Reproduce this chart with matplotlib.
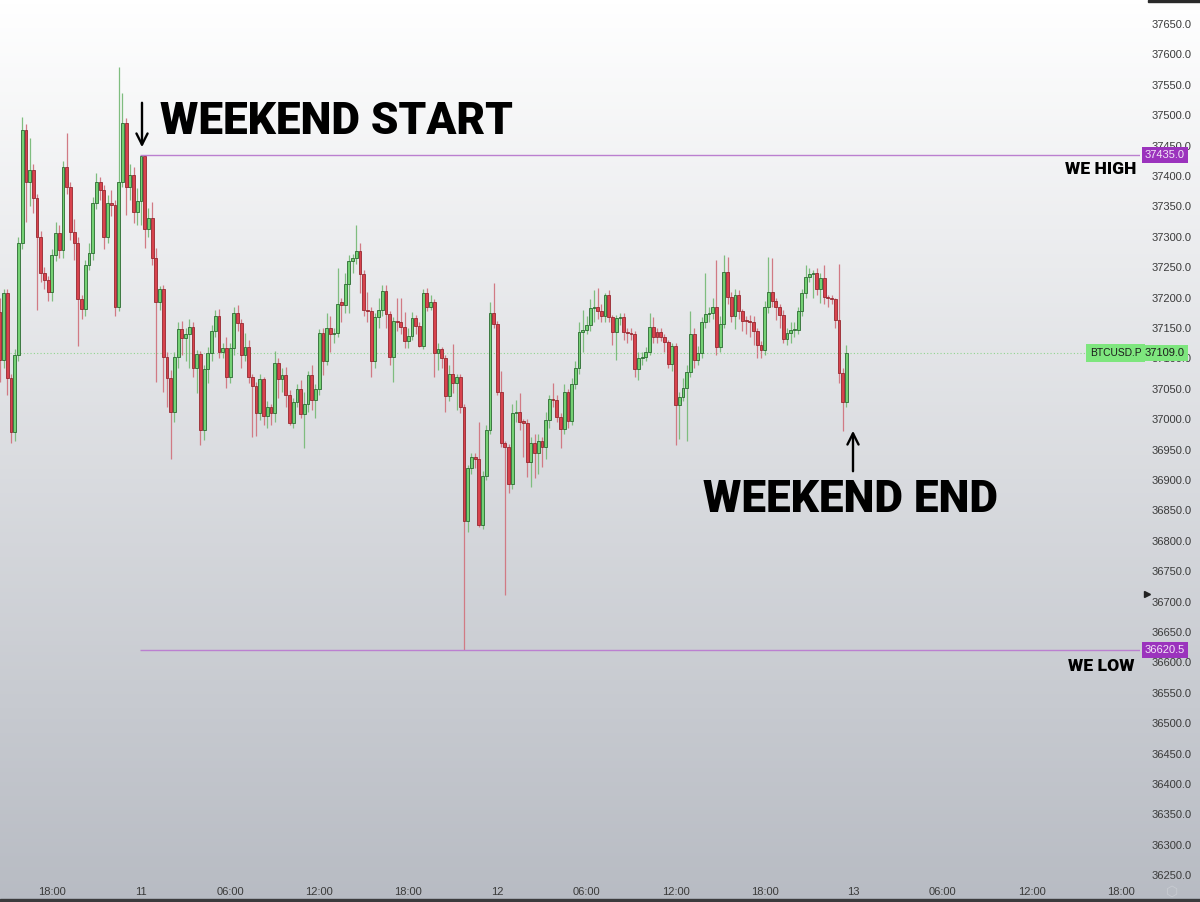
"""BTCUSD.P 15m candles over the weekend with the weekend high / low marked."""

import matplotlib
matplotlib.use("Agg")
import matplotlib.pyplot as plt
import matplotlib.dates as mdates
import matplotlib.transforms as mtransforms
from matplotlib.patches import Rectangle
from matplotlib.ticker import MultipleLocator, FuncFormatter
import numpy as np
import pandas as pd

# 15 minute candles, first one at 2023-11-10 14:30, weekend start candle = 11th 00:00
first_candle = "2023-11-10 14:30"

opens = [
    37176, 37097, 37208, 37068, 36979, 37106, 37290, 37476, 37390, 37410,
    37364, 37300, 37240, 37229, 37209, 37270, 37306, 37278, 37415, 37382,
    37308, 37290, 37198, 37181, 37254, 37273, 37356, 37390, 37377, 37300,
    37356, 37352, 37184, 37390, 37487, 37382, 37402, 37341,
    # weekend
    37359, 37433, 37313, 37331, 37265, 37193, 37214, 37102, 37068, 37012,
    37102, 37148, 37134, 37140, 37152, 37084, 37107, 36982, 37083, 37109,
    37145, 37170, 37111, 37117, 37069, 37117, 37175, 37158, 37106, 37119,
    37069, 37055, 37010, 37066, 37005, 37020, 37010, 37092, 37066, 37073,
    37040, 36994, 37028, 37050, 37009, 37025, 37073, 37032, 37050, 37142,
    37096, 37150, 37140, 37142, 37192, 37188, 37222, 37260, 37265, 37277,
    37239, 37180, 37178, 37096, 37168, 37180, 37211, 37173, 37102, 37162,
    37160, 37152, 37129, 37137, 37166, 37153, 37120, 37208, 37184, 37193,
    37109, 37115, 37101, 37038, 37074, 37060, 37069, 37020, 36833, 36920,
    36938, 36935, 36826, 36907, 36982, 37175, 37157, 37045, 36961, 36954,
    36893, 37010, 37012, 36997, 36994, 36930, 36961, 36944, 36964, 36954,
    36999, 37033, 37032, 37004, 36984, 37045, 36997, 37058, 37084, 37143,
    37147, 37155, 37183, 37184, 37178, 37170, 37204, 37168, 37143, 37166,
    37168, 37143, 37142, 37140, 37083, 37101, 37103, 37111, 37152, 37143,
    37143, 37135, 37127, 37091, 37120, 37023, 37037, 37051, 37078, 37140,
    37097, 37109, 37160, 37173, 37175, 37184, 37119, 37157, 37242, 37201,
    37170, 37204, 37178, 37163, 37161, 37160, 37145, 37122, 37114, 37184,
    37209, 37194, 37184, 37171, 37132, 37142, 37146, 37147, 37178, 37208,
    37234, 37239, 37240, 37214, 37232, 37201, 37200, 37198, 37163, 37076,
    37028,
]
highs = [
    37200, 37215, 37214, 37075, 37115, 37300, 37497, 37485, 37462, 37420,
    37370, 37310, 37250, 37235, 37280, 37325, 37320, 37425, 37470, 37390,
    37330, 37300, 37205, 37262, 37290, 37365, 37405, 37398, 37385, 37368,
    37377, 37360, 37579, 37536, 37495, 37420, 37415, 37380,
    37435, 37435, 37347, 37357, 37282, 37219, 37220, 37110, 37081, 37110,
    37160, 37162, 37150, 37165, 37160, 37114, 37112, 37090, 37118, 37155,
    37180, 37182, 37125, 37135, 37125, 37184, 37188, 37165, 37142, 37130,
    37075, 37062, 37075, 37070, 37030, 37025, 37112, 37100, 37085, 37086,
    37048, 37035, 37058, 37065, 37045, 37080, 37089, 37058, 37148, 37150,
    37175, 37170, 37150, 37249, 37200, 37240, 37270, 37272, 37319, 37290,
    37245, 37210, 37185, 37175, 37200, 37221, 37220, 37178, 37168, 37199,
    37200, 37176, 37150, 37176, 37172, 37160, 37215, 37216, 37204, 37198,
    37125, 37118, 37105, 37089, 37124, 37075, 37075, 37025, 36925, 36945,
    36945, 36995, 36915, 36990, 37193, 37224, 37162, 37080, 36965, 36960,
    37025, 37032, 37043, 37000, 37000, 36970, 36975, 36975, 36970, 37012,
    37040, 37060, 37040, 37010, 37058, 37050, 37068, 37095, 37160, 37180,
    37170, 37198, 37212, 37216, 37190, 37208, 37212, 37172, 37172, 37175,
    37175, 37150, 37150, 37145, 37110, 37110, 37118, 37175, 37168, 37150,
    37150, 37140, 37130, 37125, 37125, 37045, 37068, 37090, 37178, 37150,
    37120, 37168, 37240, 37185, 37200, 37262, 37170, 37270, 37267, 37210,
    37215, 37212, 37182, 37170, 37171, 37170, 37150, 37128, 37195, 37267,
    37265, 37200, 37190, 37180, 37150, 37160, 37160, 37185, 37215, 37254,
    37249, 37245, 37248, 37240, 37254, 37205, 37205, 37200, 37256, 37085,
    37122,
]
lows = [
    37062, 37085, 37040, 36961, 36965, 37095, 37280, 37325, 37350, 37340,
    37180, 37225, 37215, 37195, 37195, 37260, 37265, 37265, 37370, 37295,
    37262, 37120, 37165, 37170, 37245, 37262, 37345, 37360, 37280, 37290,
    37335, 37170, 37178, 37382, 37336, 37360, 37323, 37320,
    37320, 37282, 37300, 37254, 37062, 37180, 37045, 37020, 36935, 36995,
    37085, 37105, 37095, 37085, 37070, 37043, 36958, 36966, 37060, 37095,
    37135, 37100, 37100, 37051, 37060, 37105, 37145, 37085, 37095, 37060,
    36970, 36972, 36999, 36990, 36985, 36990, 36995, 37035, 37045, 37020,
    36990, 36985, 37020, 37002, 36953, 37012, 37015, 37002, 37040, 37073,
    37090, 37111, 37125, 37135, 37160, 37175, 37175, 37240, 37255, 37208,
    37170, 37160, 37069, 37085, 37150, 37170, 37150, 37090, 37061, 37145,
    37140, 37117, 37117, 37130, 37140, 37118, 37115, 37178, 37180, 37069,
    37081, 37085, 37012, 37030, 37043, 37015, 37010, 36620.5, 36814, 36910,
    36920, 36822, 36820, 36900, 36975, 37150, 37040, 36955, 36711, 36878,
    36885, 36995, 36982, 36938, 36905, 36889, 36903, 36910, 36921, 36935,
    36985, 37020, 36995, 36953, 36975, 36985, 36990, 37050, 37075, 37110,
    37140, 37145, 37160, 37165, 37160, 37160, 37160, 37122, 37098, 37155,
    37130, 37125, 37130, 37069, 37065, 37090, 37095, 37105, 37125, 37125,
    37128, 37111, 37085, 37080, 36958, 36968, 37030, 36965, 37070, 37085,
    37089, 37100, 37150, 37160, 37165, 37105, 37110, 37150, 37190, 37160,
    37148, 37165, 37145, 37140, 37135, 37122, 37100, 37100, 37105, 37175,
    37185, 37163, 37150, 37125, 37122, 37125, 37135, 37140, 37170, 37200,
    37225, 37200, 37205, 37191, 37190, 37185, 37190, 37150, 37060, 36981,
    37020,
]
closes = [
    37097, 37208, 37068, 36979, 37106, 37290, 37476, 37390, 37410, 37364,
    37300, 37240, 37229, 37209, 37270, 37306, 37278, 37415, 37382, 37308,
    37290, 37198, 37181, 37254, 37273, 37356, 37390, 37377, 37300, 37356,
    37352, 37184, 37390, 37487, 37382, 37402, 37341, 37359,
    37433, 37313, 37331, 37265, 37193, 37214, 37102, 37068, 37012, 37102,
    37148, 37134, 37140, 37152, 37084, 37107, 36982, 37083, 37109, 37145,
    37170, 37111, 37117, 37069, 37117, 37175, 37158, 37106, 37119, 37069,
    37055, 37010, 37066, 37005, 37020, 37010, 37092, 37066, 37073, 37040,
    36994, 37028, 37050, 37009, 37025, 37073, 37032, 37050, 37142, 37096,
    37150, 37140, 37142, 37189, 37188, 37222, 37260, 37265, 37277, 37239,
    37180, 37178, 37096, 37168, 37180, 37211, 37173, 37102, 37162, 37160,
    37152, 37129, 37137, 37166, 37153, 37120, 37208, 37184, 37193, 37109,
    37115, 37101, 37038, 37074, 37060, 37069, 37020, 36833, 36920, 36938,
    36935, 36826, 36907, 36982, 37175, 37157, 37045, 36961, 36954, 36893,
    37010, 37012, 36995, 36994, 36930, 36961, 36944, 36964, 36954, 36999,
    37033, 37031, 37004, 36984, 37045, 36997, 37058, 37084, 37143, 37147,
    37155, 37183, 37184, 37178, 37170, 37204, 37168, 37143, 37166, 37168,
    37143, 37141, 37140, 37083, 37101, 37103, 37111, 37152, 37135, 37135,
    37135, 37127, 37091, 37120, 37023, 37037, 37051, 37078, 37140, 37097,
    37109, 37160, 37173, 37175, 37184, 37119, 37157, 37242, 37201, 37170,
    37204, 37178, 37162, 37161, 37160, 37145, 37122, 37114, 37184, 37209,
    37194, 37184, 37171, 37132, 37142, 37147, 37148, 37178, 37208, 37234,
    37239, 37240, 37214, 37232, 37201, 37199, 37198, 37163, 37076, 37028,
    37109,
]

weekend_start = "2023-11-11 00:00"
we_high = 37435.0
we_low = 36620.5
last_price = 37109.0

GREEN_FILL, GREEN_EDGE, GREEN_WICK = "#74d174", "#2b6a31", "#7fbd7f"
RED_FILL, RED_EDGE, RED_WICK = "#d8434d", "#962830", "#d17a84"
PURPLE_LINE, PURPLE_BOX = "#bb7fd0", "#9b33bd"
TEXT_GREY = "#3a3a3a"

W, H = 1200, 902
fig = plt.figure(figsize=(W / 100, H / 100), dpi=100)

# background gradient, white at top to grey-blue at bottom
bg = fig.add_axes([0, 0, 1, 1], zorder=-10)
grad = np.linspace(0, 1, 256)[:, None, None]
top = np.array([1.0, 1.0, 1.0])
bottom = np.array([0.72, 0.735, 0.765])
bg.imshow(top + (bottom - top) * grad, aspect="auto", extent=[0, 1, 0, 1], origin="upper")
bg.axis("off")

# price pane: x 0..1140 px, y 0..880 px
ax = fig.add_axes([0, 22 / H, 1140 / W, 880 / H])
ax.set_facecolor("none")

times = pd.date_range(first_candle, periods=len(closes), freq="15min")
x = mdates.date2num(times)
o = np.array(opens, float)
hi = np.array(highs, float)
lo = np.array(lows, float)
c = np.array(closes, float)
up = c >= o

body_w = 0.19 / 24
ax.vlines(x[up], lo[up], hi[up], color=GREEN_WICK, lw=0.9, zorder=2)
ax.vlines(x[~up], lo[~up], hi[~up], color=RED_WICK, lw=0.9, zorder=2)
body_h = np.maximum(np.abs(c - o), 1.5)
body_b = np.minimum(o, c)
ax.bar(x[up], body_h[up], bottom=body_b[up], width=body_w, color=GREEN_FILL,
       edgecolor=GREEN_EDGE, linewidth=0.6, zorder=3)
ax.bar(x[~up], body_h[~up], bottom=body_b[~up], width=body_w, color=RED_FILL,
       edgecolor=RED_EDGE, linewidth=0.6, zorder=3)

# axis limits, one hour = 14.85 px and weekend start candle at 141 px
t0 = mdates.date2num(pd.Timestamp(weekend_start))
ax.set_xlim(t0 - 141 / 14.85 / 24, t0 + 999 / 14.85 / 24)
ax.set_ylim(37689.5 - 880 * 1.6447, 37689.5)

# weekend high / low lines
wk0 = t0 - 0.1 / 24
ax.hlines(we_high, wk0, ax.get_xlim()[1], color=PURPLE_LINE, lw=1.0, zorder=4)
ax.hlines(we_low, wk0, ax.get_xlim()[1], color=PURPLE_LINE, lw=1.0, zorder=4)
ax.axhline(last_price, color="#8fd68f", lw=0.8, ls=(0, (1, 2)), zorder=1)

# right price scale
ax.yaxis.tick_right()
ax.yaxis.set_major_locator(MultipleLocator(50))
ax.yaxis.set_major_formatter(FuncFormatter(lambda v, p: f"{v:.1f}"))
ax.tick_params(axis="y", length=0, pad=8.5, labelsize=8, labelcolor=TEXT_GREY)


def time_label(v, pos):
    d = mdates.num2date(v)
    return f"{d.day}" if d.hour == 0 else d.strftime("%H:%M")


ax.xaxis.set_major_locator(mdates.HourLocator(byhour=[0, 6, 12, 18]))
ax.xaxis.set_major_formatter(FuncFormatter(time_label))
ax.tick_params(axis="x", length=0, pad=5, labelsize=8, labelcolor=TEXT_GREY)
for s in ax.spines.values():
    s.set_visible(False)
for lab in ax.get_xticklabels() + ax.get_yticklabels():
    lab.set_fontfamily(["Liberation Sans", "DejaVu Sans"])

# price labels on the scale
scale = mtransforms.blended_transform_factory(ax.transAxes, ax.transData)
box_x = 1145 / 1140
for val in (we_high, we_low):
    ax.text(box_x, val, f"{val:.1f}", transform=scale, ha="left", va="center",
            fontsize=8, color="#f3e6f8", family="Liberation Sans", clip_on=False, zorder=6,
            bbox=dict(boxstyle="square,pad=0.28", fc=PURPLE_BOX, ec="none"))
ax.text(box_x, last_price, f"{last_price:.1f}", transform=scale, ha="left", va="center",
        fontsize=8, color="#1c1c1c", family="Liberation Sans", clip_on=False, zorder=6,
        bbox=dict(boxstyle="square,pad=0.28", fc="#7ee67e", ec="none"))
ax.text(1090 / 1140, last_price, "BTCUSD.P", transform=scale, ha="left", va="center",
        fontsize=7.4, color="#1c1c1c", family="Liberation Sans", zorder=6,
        bbox=dict(boxstyle="square,pad=0.36", fc="#7ee67e", ec="none"))
ax.plot([1146.5 / 1140], [36712], marker=">", ms=5, color="#222222", transform=scale,
        clip_on=False, zorder=6)

# annotations
big = dict(family=["Roboto", "DejaVu Sans"], fontweight="black", color="black")
ax.text(160 / 1140, 1 - 122 / 880, "WEEKEND START", transform=ax.transAxes,
        fontsize=31.8, ha="left", va="center", **big)
ax.text(703 / 1140, 1 - 500 / 880, "WEEKEND END", transform=ax.transAxes,
        fontsize=31.8, ha="left", va="center", **big)
ax.text(1136 / 1140, 1 - 169 / 880, "WE HIGH", transform=ax.transAxes,
        fontsize=12.6, ha="right", va="center", **big)
ax.text(1135 / 1140, 1 - 666 / 880, "WE LOW", transform=ax.transAxes,
        fontsize=12.6, ha="right", va="center", **big)
arrow = dict(arrowstyle="->", lw=1.7, color="black", mutation_scale=20)
ax.annotate("", xy=(142 / 1140, 1 - 150 / 880), xytext=(142 / 1140, 1 - 100 / 880),
            xycoords="axes fraction", arrowprops=arrow)
ax.annotate("", xy=(853 / 1140, 1 - 428 / 880), xytext=(853 / 1140, 1 - 474 / 880),
            xycoords="axes fraction", arrowprops=arrow)

# window chrome: dark bottom edge, settings icon
fig.add_artist(Rectangle((0, 0), 1, 3 / H, transform=fig.transFigure, color="#3b3b3d"))
fig.add_artist(Rectangle((1148 / W, 1 - 2 / H), 52 / W, 2 / H, transform=fig.transFigure,
                         color="#2a2a2a"))
fig.text(1172 / W, 1 - 892 / H, "\u2b21", fontsize=10, color="#c9ccd2",
         ha="center", va="center")

fig.savefig("out.png", dpi=100)
